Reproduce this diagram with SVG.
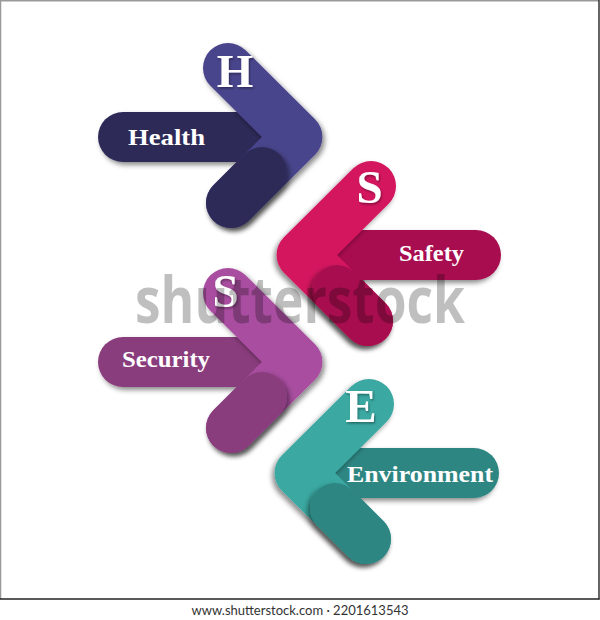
<svg xmlns="http://www.w3.org/2000/svg" width="600" height="620" viewBox="0 0 600 620">
<defs>
<filter id="sh" filterUnits="userSpaceOnUse" x="-200" y="-200" width="1000" height="1000">
<feDropShadow dx="2.5" dy="3" stdDeviation="2.5" flood-color="#000" flood-opacity="0.45"/>
</filter>
<filter id="tsh" filterUnits="userSpaceOnUse" x="0" y="0" width="600" height="620">
<feDropShadow dx="1" dy="1.5" stdDeviation="1" flood-color="#000" flood-opacity="0.4"/>
</filter>
</defs>
<style>
.arm{fill:none;stroke-width:50;stroke-linecap:round;stroke-linejoin:round}
.letter{font-family:"Liberation Serif","Times New Roman",serif;font-weight:bold;font-size:47px;fill:#fff;text-anchor:middle}
.label{font-family:"Liberation Serif","Times New Roman",serif;font-weight:bold;font-size:24px;fill:#fff}
.wm{font-family:"Open Sans","DejaVu Sans",sans-serif;font-weight:bold;font-size:64px;fill:#000;fill-opacity:0.25}
.foot{font-family:Lato,"Liberation Sans",sans-serif;font-size:13px;fill:#333;text-anchor:middle}
</style>
<rect x="0" y="0" width="600" height="620" fill="#fff"/>
<g id="frame">
<line x1="0.5" y1="0" x2="0.5" y2="599" stroke="#999" stroke-width="1.5"/>
<line x1="0" y1="0.8" x2="599" y2="0.8" stroke="#999" stroke-width="1.5"/>
<line x1="599" y1="0" x2="599" y2="599.5" stroke="#333" stroke-width="1.5"/>
<line x1="0" y1="599" x2="599.5" y2="599" stroke="#222" stroke-width="1.5"/>
</g>
<g id="connectors"></g>

<g id="health">
<g>
<rect x="98" y="112" width="185" height="50" rx="25" fill="#2e2b59" filter="url(#sh)"/>
<path class="arm" d="M228,68 L297.4,137 L231,203" stroke="#4a458c" filter="url(#sh)"/>
<path class="arm" d="M231,203 L262,172" stroke="#2e2b59" filter="url(#sh)"/>
</g>
<text class="letter" x="235" y="87" filter="url(#tsh)">H</text>
<text class="label" x="128" y="145" textLength="77" lengthAdjust="spacingAndGlyphs">Health</text>
</g>

<g id="safety">
<g transform="translate(599,118) scale(-1,1)">
<rect x="98" y="112" width="185" height="50" rx="25" fill="#a80f4f" filter="url(#sh)"/>
<path class="arm" d="M228,68 L297.4,137 L231,203" stroke="#d4145f" filter="url(#sh)"/>
<path class="arm" d="M231,203 L262,172" stroke="#a80f4f" filter="url(#sh)"/>
</g>
<text class="letter" x="369.5" y="203" filter="url(#tsh)">S</text>
<text class="label" x="399" y="261" textLength="65" lengthAdjust="spacingAndGlyphs">Safety</text>
</g>

<g id="security">
<g transform="translate(0,225)">
<rect x="98" y="112" width="185" height="50" rx="25" fill="#8a3d7d" filter="url(#sh)"/>
<path class="arm" d="M228,68 L297.4,137 L231,203" stroke="#a84e9f" filter="url(#sh)"/>
<path class="arm" d="M231,203 L262,172" stroke="#8a3d7d" filter="url(#sh)"/>
</g>
<text class="letter" x="225.5" y="307" filter="url(#tsh)">S</text>
<text class="label" x="122" y="367" textLength="88" lengthAdjust="spacingAndGlyphs">Security</text>
</g>

<g id="environment">
<g transform="translate(597,336) scale(-1,1)">
<rect x="98" y="112" width="185" height="50" rx="25" fill="#2e8682" filter="url(#sh)"/>
<path class="arm" d="M228,68 L297.4,137 L231,203" stroke="#3aa8a2" filter="url(#sh)"/>
<path class="arm" d="M231,203 L262,172" stroke="#2e8682" filter="url(#sh)"/>
</g>
<text class="letter" x="361" y="422" filter="url(#tsh)">E</text>
<text class="label" x="347" y="482" textLength="146" lengthAdjust="spacingAndGlyphs">Environment</text>
</g>

<text class="wm" x="135" y="323" textLength="330" lengthAdjust="spacingAndGlyphs">shutterstock</text>
<text class="foot" x="300" y="615">www.shutterstock.com · 2201613543</text>
</svg>
